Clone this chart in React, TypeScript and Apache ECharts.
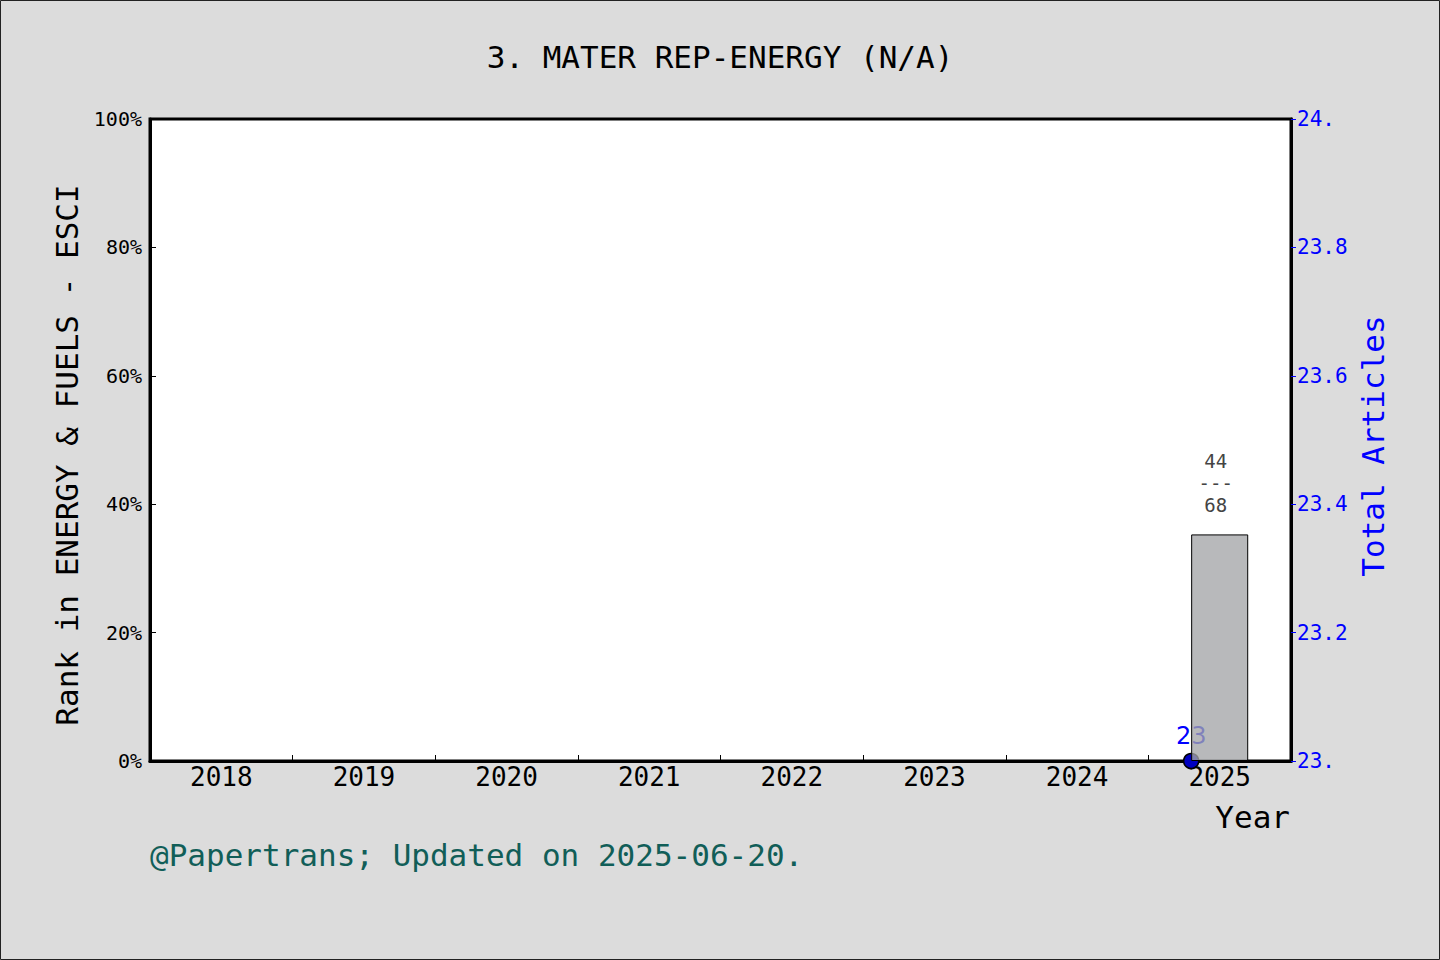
import React, { useEffect, useRef } from "react";
import * as echarts from "echarts";

const years = ["2018", "2019", "2020", "2021", "2022", "2023", "2024", "2025"];
const rankInCategory: (number | null)[] = [null, null, null, null, null, null, null, 44];
const journalsInCategory: (number | null)[] = [null, null, null, null, null, null, null, 68];
const totalArticles: (number | null)[] = [null, null, null, null, null, null, null, 23];
const leftTicks = [0, 0.2, 0.4, 0.6, 0.8, 1];
const rightTicks = [23, 23.2, 23.4, 23.6, 23.8, 24];

const titleText = "3. MATER REP-ENERGY (N/A)";
const leftName = "Rank in ENERGY & FUELS - ESCI";
const rightName = "Total Articles";
const xName = "Year";
const footer = "@Papertrans; Updated on 2025-06-20.";

const MONO = "'DejaVu Sans Mono', 'Liberation Mono', monospace";

export default function App() {
  const ref = useRef<HTMLDivElement>(null);
  useEffect(() => {
    document.body.style.margin = "0";
    if (!ref.current) return;
    const chart = echarts.init(ref.current, null, { renderer: "svg" });

    const barData = years.map((_, i) => {
      const r = rankInCategory[i];
      const t = journalsInCategory[i];
      if (r == null || t == null) return null;
      return { value: (t - r) / t, rank: r, total: t };
    });
    const lineData = years
      .map((_, i) => (totalArticles[i] == null ? null : [i - 0.2, totalArticles[i]]))
      .filter((d) => d != null);

    const grid = { left: 150, top: 119, width: 1141, height: 642 };

    chart.setOption({
      animation: false,
      backgroundColor: "#dcdcdc",
      textStyle: { fontFamily: MONO },
      grid: {
        ...grid,
        show: true,
        backgroundColor: "#ffffff",
        borderColor: "#000",
        borderWidth: 3,
      },
      xAxis: [
        {
          type: "category",
          data: years,
          boundaryGap: true,
          axisLine: { show: true, onZero: false, lineStyle: { color: "#000", width: 3 } },
          axisTick: { show: true, inside: true, length: 6, interval: 0, lineStyle: { color: "#000", width: 1 } },
          axisLabel: { color: "#000", fontSize: 26, fontFamily: MONO, margin: 3, interval: 0 },
          splitLine: { show: false },
        },
        {
          type: "value",
          min: -0.5,
          max: years.length - 0.5,
          show: false,
          position: "bottom",
          axisLine: { show: false, onZero: false },
          splitLine: { show: false },
        },
      ],
      yAxis: [
        {
          type: "value",
          min: leftTicks[0],
          max: leftTicks[leftTicks.length - 1],
          interval: 0.2,
          position: "left",
          axisLine: { show: true, onZero: false, lineStyle: { color: "#000", width: 3 } },
          axisTick: { show: true, inside: true, length: 6, lineStyle: { color: "#000", width: 1 } },
          axisLabel: {
            color: "#000",
            fontSize: 20,
            fontFamily: MONO,
            margin: 8,
            formatter: (v: number) => `${Math.round(v * 100)}%`,
          },
          splitLine: { show: false },
        },
        {
          type: "value",
          min: rightTicks[0],
          max: rightTicks[rightTicks.length - 1],
          interval: 0.2,
          position: "right",
          axisLine: { show: true, onZero: false, lineStyle: { color: "#000", width: 3 } },
          axisTick: { show: true, inside: false, length: 5, lineStyle: { color: "#0000ff", width: 1 } },
          axisLabel: {
            color: "#0000ff",
            fontSize: 21,
            fontFamily: MONO,
            margin: 6,
            formatter: (v: number) => {
              const r = Math.round(v * 10) / 10;
              return Number.isInteger(r) ? `${r}.` : r.toFixed(1);
            },
          },
          splitLine: { show: false },
        },
      ],
      series: [
        {
          type: "line",
          xAxisIndex: 1,
          yAxisIndex: 1,
          z: 2,
          data: lineData,
          symbol: "circle",
          symbolSize: 15,
          lineStyle: { color: "#0000aa", width: 2 },
          itemStyle: { color: "#0000c0", borderColor: "#000", borderWidth: 1.5 },
          label: {
            show: true,
            position: "top",
            distance: 5,
            color: "#0000ff",
            fontSize: 24,
            fontFamily: "'DejaVu Sans', sans-serif",
            formatter: (p: any) => `${p.value[1]}`,
          },
        },
        {
          type: "bar",
          xAxisIndex: 0,
          yAxisIndex: 0,
          z: 3,
          barWidth: "40%",
          data: barData,
          itemStyle: { color: "rgba(164,165,168,0.78)", borderColor: "#000", borderWidth: 1 },
          label: {
            show: true,
            position: "top",
            distance: 18,
            offset: [-4, 0],
            color: "#444",
            fontSize: 19,
            lineHeight: 22,
            fontFamily: MONO,
            formatter: (p: any) => (p.data ? `${p.data.rank}\n---\n${p.data.total}` : ""),
          },
        },
      ],
      graphic: [
        {
          type: "rect",
          shape: { x: 0.5, y: 0.5, width: 1439, height: 959 },
          style: { fill: "none", stroke: "#222", lineWidth: 1 },
          silent: true,
        },
        {
          type: "text",
          x: 720,
          y: 57,
          style: { text: titleText, font: `31px ${MONO}`, fill: "#000", textAlign: "center", textVerticalAlign: "middle" },
        },
        {
          type: "text",
          x: 67,
          y: 455,
          rotation: Math.PI / 2,
          style: { text: leftName, font: `31px ${MONO}`, fill: "#000", textAlign: "center", textVerticalAlign: "middle" },
        },
        {
          type: "text",
          x: 1373,
          y: 446,
          rotation: Math.PI / 2,
          style: { text: rightName, font: `31px ${MONO}`, fill: "#0000ff", textAlign: "center", textVerticalAlign: "middle" },
        },
        {
          type: "text",
          x: 1290,
          y: 817,
          style: { text: xName, font: `31px ${MONO}`, fill: "#000", textAlign: "right", textVerticalAlign: "middle" },
        },
        {
          type: "text",
          x: 150,
          y: 855,
          style: { text: footer, font: `31px ${MONO}`, fill: "#115e58", textAlign: "left", textVerticalAlign: "middle" },
        },
      ],
    });
    return () => chart.dispose();
  }, []);
  return <div ref={ref} style={{ width: 1440, height: 960 }} />;
}
